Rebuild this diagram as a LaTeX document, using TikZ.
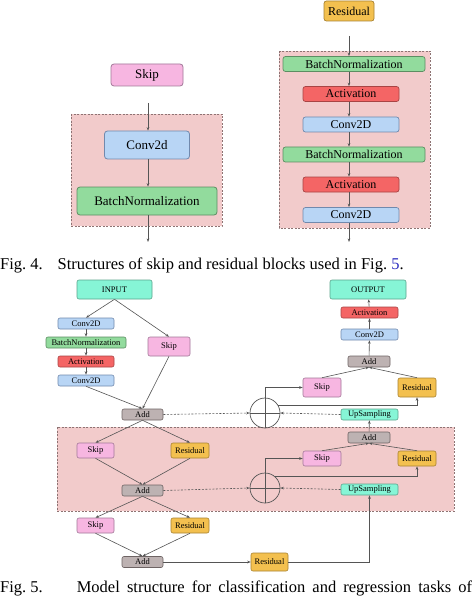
\documentclass[tikz,border=0pt]{standalone}
\usepackage{fontspec}
\setmainfont{Liberation Serif}
\usetikzlibrary{arrows.meta}
\definecolor{cSkip}{HTML}{F7B6E1}\definecolor{dSkip}{HTML}{A27898}
\definecolor{cConv}{HTML}{B8D5F5}\definecolor{dConv}{HTML}{7189AD}
\definecolor{cBN}{HTML}{92DB9D}\definecolor{dBN}{HTML}{5C8E62}
\definecolor{cAct}{HTML}{F46565}\definecolor{dAct}{HTML}{A84444}
\definecolor{cRes}{HTML}{F3C04F}\definecolor{dRes}{HTML}{A88230}
\definecolor{cAdd}{HTML}{BDB2B2}\definecolor{dAdd}{HTML}{6E6464}
\definecolor{cIO}{HTML}{86F5D6}\definecolor{dIO}{HTML}{5BA58D}
\definecolor{cBox}{HTML}{F2CBCB}\definecolor{dBox}{HTML}{8E7373}
\definecolor{cLine}{HTML}{555555}
\definecolor{cLink}{HTML}{2B2BC0}
\begin{document}
\begin{tikzpicture}[x=1pt,y=-1pt,
  blk/.style={rounded corners=2pt, inner sep=0pt, line width=0.6pt, text=black, align=center},
  sz/.style 2 args={minimum width=#1pt, minimum height=#2pt},
  big/.style={rounded corners=3pt, line width=0.8pt, font=\fontsize{13}{15}\selectfont},
  mid/.style={rounded corners=2.5pt, line width=0.7pt, font=\fontsize{12}{14}\selectfont},
  sml/.style={font=\fontsize{8.5}{10}\selectfont},
  skipn/.style={blk, fill=cSkip, draw=dSkip},
  convn/.style={blk, fill=cConv, draw=dConv},
  bnn/.style={blk, fill=cBN, draw=dBN},
  actn/.style={blk, fill=cAct, draw=dAct},
  resn/.style={blk, fill=cRes, draw=dRes},
  addn/.style={blk, fill=cAdd, draw=dAdd},
  ion/.style={blk, fill=cIO, draw=dIO},
  dbox/.style={fill=cBox, draw=dBox, dashed, dash pattern=on 2pt off 1.5pt, line width=0.6pt},
  plus/.style={circle, draw=cLine, line width=0.7pt, minimum size=30pt, inner sep=0pt},
  conn/.style={draw=cLine, line width=0.6pt, -{Stealth[length=3.5pt,width=2.6pt]}},
  dconn/.style={conn, dash pattern=on 2pt off 1.5pt},
  plain/.style={draw=cLine, line width=0.6pt},
  captxt/.style={font=\fontsize{16.5}{19}\selectfont, inner sep=0pt, anchor=base west}
]
\useasboundingbox (0,0) rectangle (474,596);
\fill[white] (0,0) rectangle (474,596);

% ---------- Fig. 4 left: Skip ----------
\draw[dbox] (71,114) rectangle (222,226);
\node[skipn, big, sz={72}{22}] (skA) at (147,75) {Skip};
\node[convn, big, sz={85}{28}] (cvA) at (147,145) {Conv2d};
\node[bnn, big, sz={140}{28}] (bnA) at (147,201) {BatchNormalization};
\coordinate (sA) at (148,103);
\coordinate (eA) at (148,242);
\draw[conn] (sA) -- (sA |- cvA.north);
\draw[conn] (cvA.south -| sA) -- (sA |- bnA.north);
\draw[conn] (bnA.south -| sA) -- (eA);

% ---------- Fig. 4 right: Residual ----------
\draw[dbox] (279,51) rectangle (430,228);
\node[resn, mid, sz={50}{20}] (rsB) at (349,11) {Residual};
\node[bnn, mid, sz={142}{15}] (bnB1) at (354,64) {BatchNormalization};
\node[actn, mid, sz={96}{15}] (acB1) at (351,94) {Activation};
\node[convn, mid, sz={96}{15}] (cvB1) at (351,124.5) {Conv2D};
\node[bnn, mid, sz={142}{15}] (bnB2) at (354,154.5) {BatchNormalization};
\node[actn, mid, sz={96}{15}] (acB2) at (351,184.5) {Activation};
\node[convn, mid, sz={96}{15}] (cvB2) at (351,215) {Conv2D};
\coordinate (sB) at (349,36);
\coordinate (eB) at (349,242);
\draw[conn] (sB) -- (sB |- bnB1.north);
\draw[conn] (bnB1.south -| sB) -- (sB |- acB1.north);
\draw[conn] (acB1.south -| sB) -- (sB |- cvB1.north);
\draw[conn] (cvB1.south -| sB) -- (sB |- bnB2.north);
\draw[conn] (bnB2.south -| sB) -- (sB |- acB2.north);
\draw[conn] (acB2.south -| sB) -- (sB |- cvB2.north);
\draw[conn] (cvB2.south -| sB) -- (eB);

% ---------- Caption Fig. 4 ----------
\node[captxt] (cap4) at (0,269) {Fig.~4.\hspace{0.9em}Structures of skip and residual blocks used in Fig.~\textcolor{cLink}{5}.};

% ---------- Fig. 5 ----------
\draw[dbox] (57,427) rectangle (454,511);

\node[ion, sml, sz={75}{19}] (inp) at (114.5,289.5) {INPUT};
\node[convn, sml, sz={56}{11}] (c1) at (86,323.5) {Conv2D};
\node[bnn, sml, sz={80}{11}] (bn1) at (86,342.5) {BatchNormalization};
\node[actn, sml, sz={56}{11}] (ac1) at (86,361.5) {Activation};
\node[convn, sml, sz={56}{11}] (c2) at (86,380.5) {Conv2D};
\node[skipn, sml, sz={42}{19}] (sk1) at (169,346.5) {Skip};
\node[addn, sml, sz={41}{11}] (ad1) at (142.5,414.5) {Add};

\node[ion, sml, sz={76}{19}] (outp) at (368,289.5) {OUTPUT};
\node[actn, sml, sz={57}{11}] (acO) at (369.5,312.5) {Activation};
\node[convn, sml, sz={57}{11}] (cvO) at (369.5,334.5) {Conv2D};
\node[addn, sml, sz={42}{11}] (adO) at (369,361.5) {Add};
\node[skipn, sml, sz={38}{19}] (skO) at (322,387.5) {Skip};
\node[resn, sml, sz={38}{19}] (rsO) at (417,387.5) {Residual};
\node[plus] (pl1) at (265,413) {};
\node[ion, sml, sz={57}{11}] (upO) at (369.5,414.5) {UpSampling};

\node[skipn, sml, sz={37}{15}] (sk2) at (95.5,450.5) {Skip};
\node[resn, sml, sz={38}{15}] (rs2) at (190,450.5) {Residual};
\node[addn, sml, sz={41}{11}] (ad2) at (142.5,490.5) {Add};
\node[addn, sml, sz={42}{11}] (adM) at (369,437.5) {Add};
\node[skipn, sml, sz={38}{15}] (skM) at (322,458.5) {Skip};
\node[resn, sml, sz={38}{15}] (rsM) at (417,458.5) {Residual};
\node[plus] (pl2) at (265,488) {};
\node[ion, sml, sz={57}{11}] (upM) at (369.5,489.5) {UpSampling};

\node[skipn, sml, sz={37}{15}] (sk3) at (95.5,525.5) {Skip};
\node[resn, sml, sz={38}{15}] (rs3) at (190,525.5) {Residual};
\node[addn, sml, sz={41}{11}] (ad3) at (142.5,562) {Add};
\node[resn, sml, sz={37}{18}] (rs4) at (269.5,562) {Residual};

% encoder
\draw[conn] (inp.south) -- (c1.north);
\draw[conn] (inp.south) -- (sk1.north);
\draw[conn] (c1) -- (bn1);
\draw[conn] (bn1) -- (ac1);
\draw[conn] (ac1) -- (c2);
\draw[conn] (c2.south) -- (ad1.north);
\draw[conn] (sk1.south) -- (ad1.north);
\draw[conn] (ad1.south) -- (sk2.north);
\draw[conn] (ad1.south) -- (rs2.north);
\draw[conn] (sk2.south) -- (ad2.north);
\draw[conn] (rs2.south) -- (ad2.north);
\draw[conn] (ad2.south) -- (sk3.north);
\draw[conn] (ad2.south) -- (rs3.north);
\draw[conn] (sk3.south) -- (ad3.north);
\draw[conn] (rs3.south) -- (ad3.north);
\draw[conn] (ad3.east) -- (rs4.west);
\draw[conn] (rs4.east) -| (upM.south);

% skip connections (dashed)
\draw[dconn] (ad1.east) -- (pl1.west);
\draw[dconn] (upO.west) -- (pl1.east);
\draw[dconn] (ad2.east) -- (pl2.west);
\draw[dconn] (upM.west) -- (pl2.east);

% plus symbols
\draw[plain] (pl1.west) -- (pl1.east);
\draw[plain] (pl2.west) -- (pl2.east);
\draw[conn] (pl1.south) |- (skO.west);
\draw[conn] (pl2.south) |- (skM.west);
\draw[conn] (pl1.32) -| (rsO.south);
\draw[conn] (pl2.47) -| (rsM.south);

% decoder
\draw[conn] (skM.north) -- (adM.south);
\draw[conn] (rsM.north) -- (adM.south);
\draw[conn] (adM) -- (upO);
\draw[conn] (skO.north) -- (adO.south);
\draw[conn] (rsO.north) -- (adO.south);
\draw[conn] (adO) -- (cvO);
\draw[conn] (cvO) -- (acO);
\draw[conn] (acO) -- (outp);

% ---------- Caption Fig. 5 ----------
\node[captxt] (cap5) at (0,592) {\hbox to 472pt{Fig.~5.\hspace{34pt}Model\hfill structure\hfill for\hfill classification\hfill and\hfill regression\hfill tasks\hfill of}};
\end{tikzpicture}
\end{document}
